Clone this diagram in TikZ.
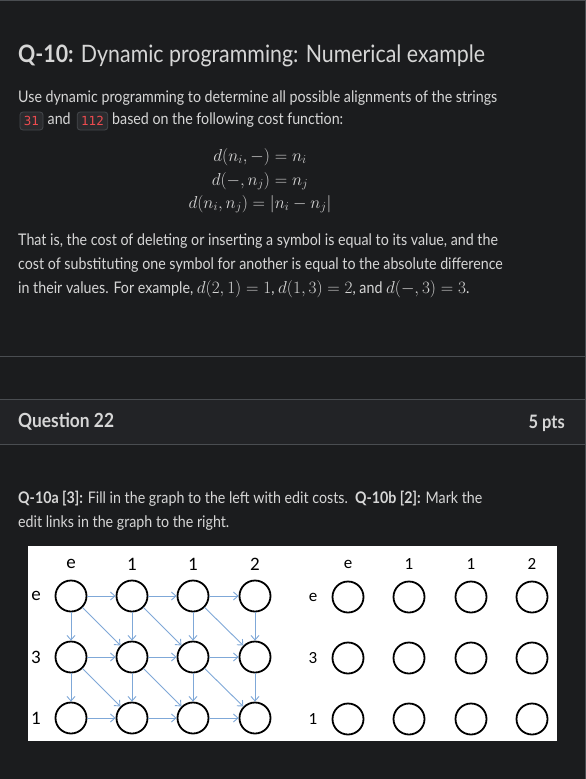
\documentclass[tikz,border=0pt]{standalone}
\usepackage{fontspec}
\setmainfont{Lato}[FakeStretch=0.89]
\newfontfamily\carlito{Carlito}
\newfontfamily\monof{DejaVu Sans Mono}
\usetikzlibrary{arrows.meta}
\definecolor{bg}{HTML}{1B1C1E}
\definecolor{hdr}{HTML}{222326}
\definecolor{rule}{HTML}{4A4D51}
\definecolor{txt}{HTML}{D6D6D6}
\definecolor{pillfill}{HTML}{2A2B2E}
\definecolor{pillline}{HTML}{45484C}
\definecolor{pilltxt}{HTML}{EC4B4F}
\definecolor{edge}{HTML}{7FA8D8}
\newcommand\km[1]{{\fontsize{16.3}{18}\selectfont$#1$}}
\tikzset{
  body/.style={anchor=base west, inner sep=0pt, text=txt, font=\fontsize{16}{24}\selectfont},
  eqn/.style={anchor=base, inner sep=0pt, text=txt, font=\fontsize{18.5}{20}\selectfont},
  pill/.style={draw=pillline, fill=pillfill, rounded corners=3pt, line width=0.8pt, text=pilltxt,
    font=\monof\fontsize{12.5}{13}\selectfont, minimum height=18pt, inner xsep=4pt, inner ysep=0pt},
  vtx/.style={circle, draw=black, line width=1.8pt, minimum size=31pt, inner sep=0pt},
  lbl/.style={inner sep=0pt, text=black, font=\carlito\fontsize{19}{19}\selectfont},
  lblr/.style={inner sep=0pt, text=black, font=\carlito\fontsize{17}{17}\selectfont},
  link/.style={draw=edge, line width=0.9pt, -{Straight Barb[length=4.5pt,width=8pt]}}
}
\begin{document}
\begin{tikzpicture}[x=1pt,y=-1pt]
\useasboundingbox (0,0) rectangle (586,779);
\fill[bg] (0,0) rectangle (586,779);
% frame lines
\draw[rule, line width=1.2pt] (0,0.6) -- (586,0.6);
\draw[rule, line width=1.2pt] (585.4,0) -- (585.4,779);
\draw[rule, line width=1pt] (0,356) -- (585,356);
\fill[hdr] (0,399) rectangle (585,444);
\draw[rule, line width=1pt] (0,399) -- (585,399);
\draw[rule, line width=1pt] (0,444) -- (585,444);

% title
\node[anchor=base west, inner sep=0pt, text=txt, font=\fontsize{24}{28}\selectfont] (title) at (18,62)
  {\textbf{Q-10:} Dynamic programming: Numerical example};
\node[body] (p1a) at (18,102) {Use dynamic programming to determine all possible alignments of the strings};
\node[pill] (s1) at (31.5,121) {31};
\node[body] (and) at (47.5,124) {and};
\node[pill] (s2) at (92.5,121) {112};
\node[body] (p1b) at (112,124) {based on the following cost function:};

% equations
\node[eqn] (e1) at (260,161) {$d(n_i,-)=n_i$};
\node[eqn] (e2) at (260,185) {$d(-,n_j)=n_j$};
\node[eqn] (e3) at (260,208) {$d(n_i,n_j)=|n_i-n_j|$};

\node[body] (p2a) at (18,245) {That is, the cost of deleting or inserting a symbol is equal to its value, and the};
\node[body] (p2b) at (18,269) {cost of substituting one symbol for another is equal to the absolute difference};
\node[body] (p2c) at (18,293) {in their values. For example, \km{d(2,1)=1}, \km{d(1,3)=2}, and \km{d(-,3)=3}.};

% header
\node[anchor=base west, inner sep=0pt, text=txt, font=\bfseries\fontsize{19.5}{22}\selectfont] (q22) at (18,427) {Question 22};
\node[anchor=base east, inner sep=0pt, text=txt, font=\bfseries\fontsize{18.5}{20}\selectfont] (pts) at (565,428) {5 pts};

\node[body] (q1) at (18,503) {\textbf{Q-10a [3]:} Fill in the graph to the left with edit costs.\ \ \textbf{Q-10b [2]:} Mark the};
\node[body] (q2) at (18,527) {edit links in the graph to the right.};

% white canvas
\fill[white] (28,546) rectangle (557,741);

% left graph
\foreach \c/\x in {1/71,2/132,3/193,4/255}{
  \foreach \r/\y in {1/596,2/657,3/718}{
    \node[vtx] (L-\r-\c) at (\x,\y) {};
  }
}
\node[lbl] (Lc1) at (71,564) {e};
\node[lbl] (Lc2) at (132,564) {1};
\node[lbl] (Lc3) at (193,564) {1};
\node[lbl] (Lc4) at (255,564) {2};
\node[lbl] (Lr1) at (36,596) {e};
\node[lbl] (Lr2) at (36,657) {3};
\node[lbl] (Lr3) at (36,718) {1};

\foreach \r in {1,2,3}{
  \foreach \c [evaluate=\c as \n using int(\c+1)] in {1,2,3}{
    \draw[link] (L-\r-\c) -- (L-\r-\n);
  }
}
\foreach \r [evaluate=\r as \s using int(\r+1)] in {1,2}{
  \foreach \c in {1,2,3,4}{
    \draw[link] (L-\r-\c) -- (L-\s-\c);
  }
  \foreach \c [evaluate=\c as \n using int(\c+1)] in {1,2,3}{
    \draw[link] (L-\r-\c) -- (L-\s-\n);
  }
}

% right graph
\foreach \c/\x in {1/348,2/409,3/471,4/532}{
  \foreach \r/\y in {1/597,2/658,3/719}{
    \node[vtx] (R-\r-\c) at (\x,\y) {};
  }
}
\node[lblr] (Rc1) at (348,564) {e};
\node[lblr] (Rc2) at (409,564) {1};
\node[lblr] (Rc3) at (471,564) {1};
\node[lblr] (Rc4) at (532,564) {2};
\node[lblr] (Rr1) at (313,597) {e};
\node[lblr] (Rr2) at (313,658) {3};
\node[lblr] (Rr3) at (313,719) {1};
\end{tikzpicture}
\end{document}
